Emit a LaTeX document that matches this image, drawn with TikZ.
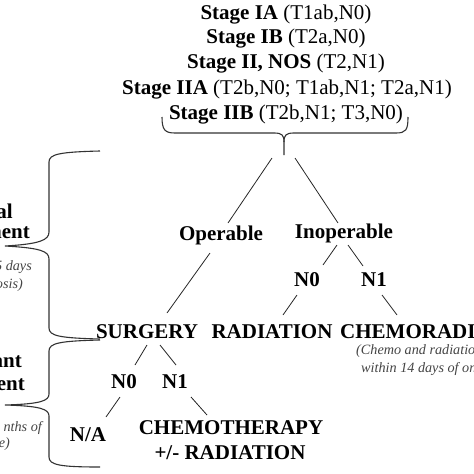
\documentclass[tikz,border=0pt]{standalone}
\usepackage{fontspec}
\setmainfont{Liberation Serif}
\definecolor{notegray}{HTML}{444444}
\definecolor{bracegray}{HTML}{333333}
\begin{document}
\begin{tikzpicture}[x=1pt,y=-1pt]
\tikzstyle{every node}+=[inner sep=0pt]
\tikzstyle{big}=[font=\fontsize{21}{25}\selectfont, text=black]
\tikzstyle{note}=[font=\fontsize{14.2}{16}\selectfont\itshape, text=notegray]
\tikzstyle{bracepath}=[line width=1.1pt, draw=bracegray]
\tikzstyle{branch}=[line width=0.8pt, draw=black!85]
\useasboundingbox (0,0) rectangle (474,474);
\clip (0,0) rectangle (474,474);
\node [big] (stIA) at (286,15) {\textbf{Stage IA} (T1ab,N0)};
\node [big] (stIB) at (286,39) {\textbf{Stage IB} (T2a,N0)};
\node [big] (stII) at (286,64) {\textbf{Stage II, NOS} (T2,N1)};
\node [big] (stIIA) at (287,90) {\textbf{Stage IIA} (T2b,N0; T1ab,N1; T2a,N1)};
\node [big] (stIIB) at (286,115) {\textbf{Stage IIB} (T2b,N1; T3,N0)};
\coordinate (tip) at (284,155);
\draw [bracepath] (162,117) .. controls (162,130) and (165,133) .. (175,133) -- (274,133) .. controls (282,133) and (284,135) .. (284,142) -- (tip);
\draw [bracepath] (284,142) .. controls (284,135) and (286,133) .. (294,133) -- (396,133) .. controls (406,133) and (408,130) .. (408,117);
\node [big] (oper) at (221,235) {\textbf{Operable}};
\node [big] (inop) at (344,233) {\textbf{Inoperable}};
\node [big] (inN0) at (307,280) {\textbf{N0}};
\node [big] (inN1) at (374,280) {\textbf{N1}};
\node [big] (surg) at (147,332) {\textbf{SURGERY}};
\node [big] (rad) at (272,332) {\textbf{RADIATION}};
\node [big, anchor=west] (chemrad) at (340,332) {\textbf{CHEMORADI}};
\node [note, anchor=west] (noteA) at (356,351) {(Chemo and radiatio};
\node [note, anchor=west] (noteB) at (361,369) {within 14 days of on};
\node [big] (suN0) at (124,382) {\textbf{N0}};
\node [big] (suN1) at (175,382) {\textbf{N1}};
\node [big] (na) at (88,435) {\textbf{N/A}};
\node [big] (chemo) at (231,428) {\textbf{CHEMOTHERAPY}};
\node [big] (radpm) at (230,453) {\textbf{+/- RADIATION}};
\draw [branch] ([shift={(-12,3)}]tip) -- ([shift={(7,-12)}]oper.center);
\draw [branch] ([shift={(11,3)}]tip) -- ([shift={(-6,-10)}]inop.center);
\draw [branch] ([shift={(-11,18)}]oper.center) -- ([shift={(20,-19)}]surg.center);
\draw [branch] ([shift={(-7,12)}]inop.center) -- ([shift={(16,-15)}]inN0.center);
\draw [branch] ([shift={(4,12)}]inop.center) -- ([shift={(-11,-14)}]inN1.center);
\draw [branch] ([shift={(-10,15)}]inN0.center) -- ([shift={(11,-17)}]rad.center);
\draw [branch] ([shift={(8,15)}]inN1.center) -- ([shift={(57,-17)}]chemrad.west);
\draw [branch] ([shift={(0,13)}]surg.center) -- ([shift={(11,-17)}]suN0.center);
\draw [branch] ([shift={(13,13)}]surg.center) -- ([shift={(1,-17)}]suN1.center);
\draw [branch] ([shift={(-4,15)}]suN0.center) -- ([shift={(18,-18)}]na.center);
\draw [branch] ([shift={(16,15)}]suN1.center) -- ([shift={(-24,-13)}]chemo.center);
\draw [bracepath] (100,151) .. controls (60,152) and (49,154) .. (49,162) -- (49,232) .. controls (49,240) and (40,244) .. (5,246) .. controls (40,248) and (49,251) .. (49,259) -- (49,328) .. controls (49,336) and (60,338) .. (100,339);
\draw [bracepath] (100,340) .. controls (60,341) and (49,343) .. (49,351) -- (49,394) .. controls (49,401) and (40,404) .. (5,405) .. controls (40,406) and (49,409) .. (49,416) -- (49,457) .. controls (49,465) and (60,467) .. (100,467);
\node [big, anchor=east] (initA) at (13,211) {\textbf{al}};
\node [big, anchor=east] (initB) at (30,233) {\textbf{ment}};
\node [note, anchor=east] (initC) at (32,267) {5 days};
\node [note, anchor=east] (initD) at (23,285) {osis)};
\node [big, anchor=east] (adjA) at (22,362) {\textbf{ant}};
\node [big, anchor=east] (adjB) at (25,385) {\textbf{ent}};
\node [note, anchor=east] (adjC) at (42,428) {nths of};
\node [note, anchor=east] (adjD) at (10,444) {e)};
\end{tikzpicture}
\end{document}
